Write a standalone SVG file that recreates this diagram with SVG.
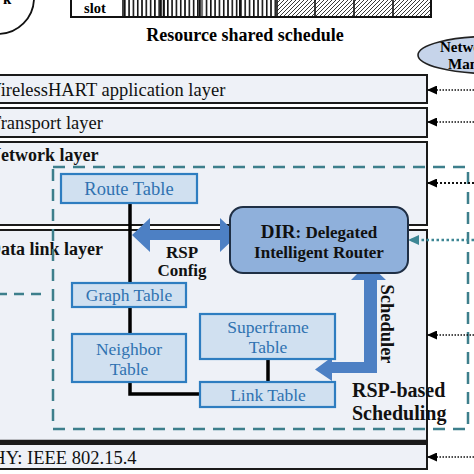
<svg xmlns="http://www.w3.org/2000/svg" width="474" height="474" viewBox="0 0 474 474">
<defs>
<style>
.layer{fill:#eef1f7;stroke:#1a1a1a;stroke-width:2}
.ltxt{font-family:"Liberation Serif",serif;font-size:18.5px;fill:#111}
.btxt{font-family:"Liberation Serif",serif;font-size:18px;font-weight:bold;fill:#111}
.tbl{fill:#d0e0f0;stroke:#2e7dc0;stroke-width:2.2}
.ttxt{font-family:"Liberation Serif",serif;font-size:17.5px;fill:#2f72b0;text-anchor:middle}
.blk{stroke:#000;stroke-width:3.5;fill:none}
.dot{stroke:#111;stroke-width:1.4;stroke-dasharray:1.5 1.5;fill:none}
.dotb{stroke:#111;stroke-width:2.2;stroke-dasharray:2 2;fill:none}
.dott{stroke:#3d8694;stroke-width:2.6;stroke-dasharray:2.5 2.5;fill:none}
.arr{fill:#4d80c4}
</style>
<pattern id="hatch" width="4" height="4" patternUnits="userSpaceOnUse">
<rect width="4" height="4" fill="#fff"/>
<path d="M-1,1 l2,-2 M0,4 l4,-4 M3,5 l2,-2" stroke="#222" stroke-width="0.9"/>
</pattern>
<pattern id="stripe" width="4.3" height="20" patternUnits="userSpaceOnUse" x="124">
<rect width="4.3" height="20" fill="#fff"/>
<rect x="0" width="1.6" height="20" fill="#111"/>
</pattern>
<marker id="ah" markerWidth="10" markerHeight="9" refX="9" refY="4.5" orient="auto" markerUnits="userSpaceOnUse">
<path d="M0,0 L10,4.5 L0,9 Z" fill="#000"/>
</marker>
<marker id="aht" markerWidth="11" markerHeight="10" refX="10" refY="5" orient="auto" markerUnits="userSpaceOnUse">
<path d="M0,0 L11,5 L0,10 Z" fill="#3d8694"/>
</marker>
</defs>
<rect width="474" height="474" fill="#fff"/>

<g id="node-circle">
<circle cx="-2" cy="-2" r="36" fill="#fff" stroke="#111" stroke-width="1.8"/>
<text x="3" y="4" style="font-family:'Liberation Serif',serif;font-size:15px;font-weight:bold">k</text>
</g>

<g id="node-schedule">
<rect x="71" y="-5" width="360" height="22" fill="#fff" stroke="#111" stroke-width="2"/>
<rect x="124" y="-4" width="153" height="20" fill="url(#stripe)"/>
<g fill="#111">
<rect x="160" y="-4" width="1.8" height="20"/>
<rect x="163" y="-4" width="1.8" height="20"/>
<rect x="199" y="-4" width="1.8" height="20"/>
<rect x="201.5" y="-4" width="1.5" height="20" fill="#777"/>
<rect x="239" y="-4" width="1.8" height="20"/>
</g>
<rect x="277" y="-4" width="154" height="20" fill="url(#hatch)"/>
<g stroke="#111" stroke-width="1.6">
<line x1="123" y1="-5" x2="123" y2="17"/>
<line x1="277" y1="-5" x2="277" y2="17"/>
<line x1="315" y1="-5" x2="315" y2="17"/>
<line x1="354" y1="-5" x2="354" y2="17"/>
<line x1="393" y1="-5" x2="393" y2="17"/>
</g>
<rect x="71" y="-5" width="360" height="22" fill="none" stroke="#111" stroke-width="2"/>
<text x="84" y="13" style="font-family:'Liberation Serif',serif;font-size:14.5px;font-weight:bold">slot</text>
<text x="245" y="41" text-anchor="middle" style="font-family:'Liberation Serif',serif;font-size:18px;font-weight:bold">Resource shared schedule</text>
</g>

<g id="node-manager">
<ellipse cx="490" cy="55" rx="72" ry="18.5" fill="#c6d4ea" stroke="#222" stroke-width="1.6"/>
<text x="440" y="52" style="font-family:'Liberation Serif',serif;font-size:15px;font-weight:bold">Network</text>
<text x="448" y="69" style="font-family:'Liberation Serif',serif;font-size:15px;font-weight:bold">Manager</text>
</g>

<g id="node-app">
<rect class="layer" x="-5" y="75" width="432" height="28"/>
<text class="ltxt" x="-16" y="96">WirelessHART  application layer</text>
</g>
<g id="node-transport">
<rect class="layer" x="-5" y="108" width="432" height="29"/>
<text class="ltxt" x="-10" y="129">Transport layer</text>
</g>
<g id="node-network">
<rect class="layer" x="-5" y="142" width="432" height="83"/>
<text class="btxt" x="-12" y="161">Network layer</text>
</g>
<g id="node-datalink">
<rect class="layer" x="-5" y="230" width="432" height="212"/>
<text class="btxt" x="-12" y="255">Data link layer</text>
</g>
<g id="node-phy">
<rect class="layer" x="-5" y="444" width="432" height="25"/>
<line x1="-5" y1="440.5" x2="427" y2="440.5" stroke="#1a1a1a" stroke-width="1.5"/>
<text class="ltxt" x="-18" y="464">PHY: IEEE  802.15.4</text>
</g>

<g id="node-dashbox">
<rect x="53" y="167" width="415" height="262" fill="none" stroke="#3d7f8c" stroke-width="2.5" stroke-dasharray="12 8"/>
<line x1="0" y1="294" x2="42" y2="294" stroke="#3d7f8c" stroke-width="2.5" stroke-dasharray="10 7" stroke-dashoffset="3"/>
</g>

<g id="connectors">
<polyline class="blk" points="130,203 130,283"/>
<polyline class="blk" points="130,307 130,334"/>
<polyline class="blk" points="130,382 130,394 200,394"/>
<line class="blk" x1="268" y1="359" x2="268" y2="382"/>
<polygon class="arr" points="132,235 150,218 150,230 220,230 220,218 238,235 220,252 220,240 150,240 150,252"/>
<polygon class="arr" points="368,263 386,280 377,280 377,373 332,373 332,381 315,369.5 332,357 332,362 364,362 364,280 351,280"/>
<line class="dot" x1="474" y1="90" x2="428" y2="90" marker-end="url(#ah)"/>
<line class="dot" x1="474" y1="122" x2="428" y2="122" marker-end="url(#ah)"/>
<line class="dotb" x1="474" y1="183" x2="428" y2="183" marker-end="url(#ah)"/>
<line class="dott" x1="474" y1="240" x2="409" y2="240" marker-end="url(#aht)"/>
<line class="dot" x1="474" y1="335" x2="428" y2="335" marker-end="url(#ah)"/>
<line class="dot" x1="474" y1="457" x2="428" y2="457" marker-end="url(#ah)"/>
</g>

<g id="node-route">
<rect class="tbl" x="61" y="174" width="136" height="29"/>
<text class="ttxt" x="129" y="195" style="font-size:18.5px">Route Table</text>
</g>
<g id="node-graph">
<rect class="tbl" x="72" y="283" width="114" height="24"/>
<text class="ttxt" x="129" y="301">Graph Table</text>
</g>
<g id="node-neighbor">
<rect class="tbl" x="72" y="334" width="114" height="48"/>
<text class="ttxt" x="129" y="355">Neighbor</text>
<text class="ttxt" x="129" y="375">Table</text>
</g>
<g id="node-superframe">
<rect class="tbl" x="200" y="314" width="135" height="45"/>
<text class="ttxt" x="268" y="333">Superframe</text>
<text class="ttxt" x="268" y="353">Table</text>
</g>
<g id="node-link">
<rect class="tbl" x="200" y="382" width="135" height="25"/>
<text class="ttxt" x="268" y="401">Link Table</text>
</g>

<g id="node-dir">
<rect x="230" y="207" width="178" height="66" rx="13" fill="#8fb0db" stroke="#1f2f45" stroke-width="2"/>
<text x="319" y="238" text-anchor="middle" style="font-family:'Liberation Serif',serif;font-size:17px;font-weight:bold;fill:#111"><tspan style="font-size:19px">DIR</tspan>: Delegated</text>
<text x="319" y="258" text-anchor="middle" style="font-family:'Liberation Serif',serif;font-size:17px;font-weight:bold;fill:#111">Intelligent  Router</text>
</g>

<g id="labels" style="font-family:'Liberation Serif',serif;font-weight:bold;fill:#111">
<text x="182" y="258" text-anchor="middle" style="font-size:17px">RSP</text>
<text x="182" y="276" text-anchor="middle" style="font-size:17px">Config</text>
<text transform="translate(381,324) rotate(90)" text-anchor="middle" style="font-size:18.5px">Scheduler</text>
<text x="352" y="397" style="font-size:20px">RSP-based</text>
<text x="352" y="420" style="font-size:20px">Scheduling</text>
</g>
</svg>
